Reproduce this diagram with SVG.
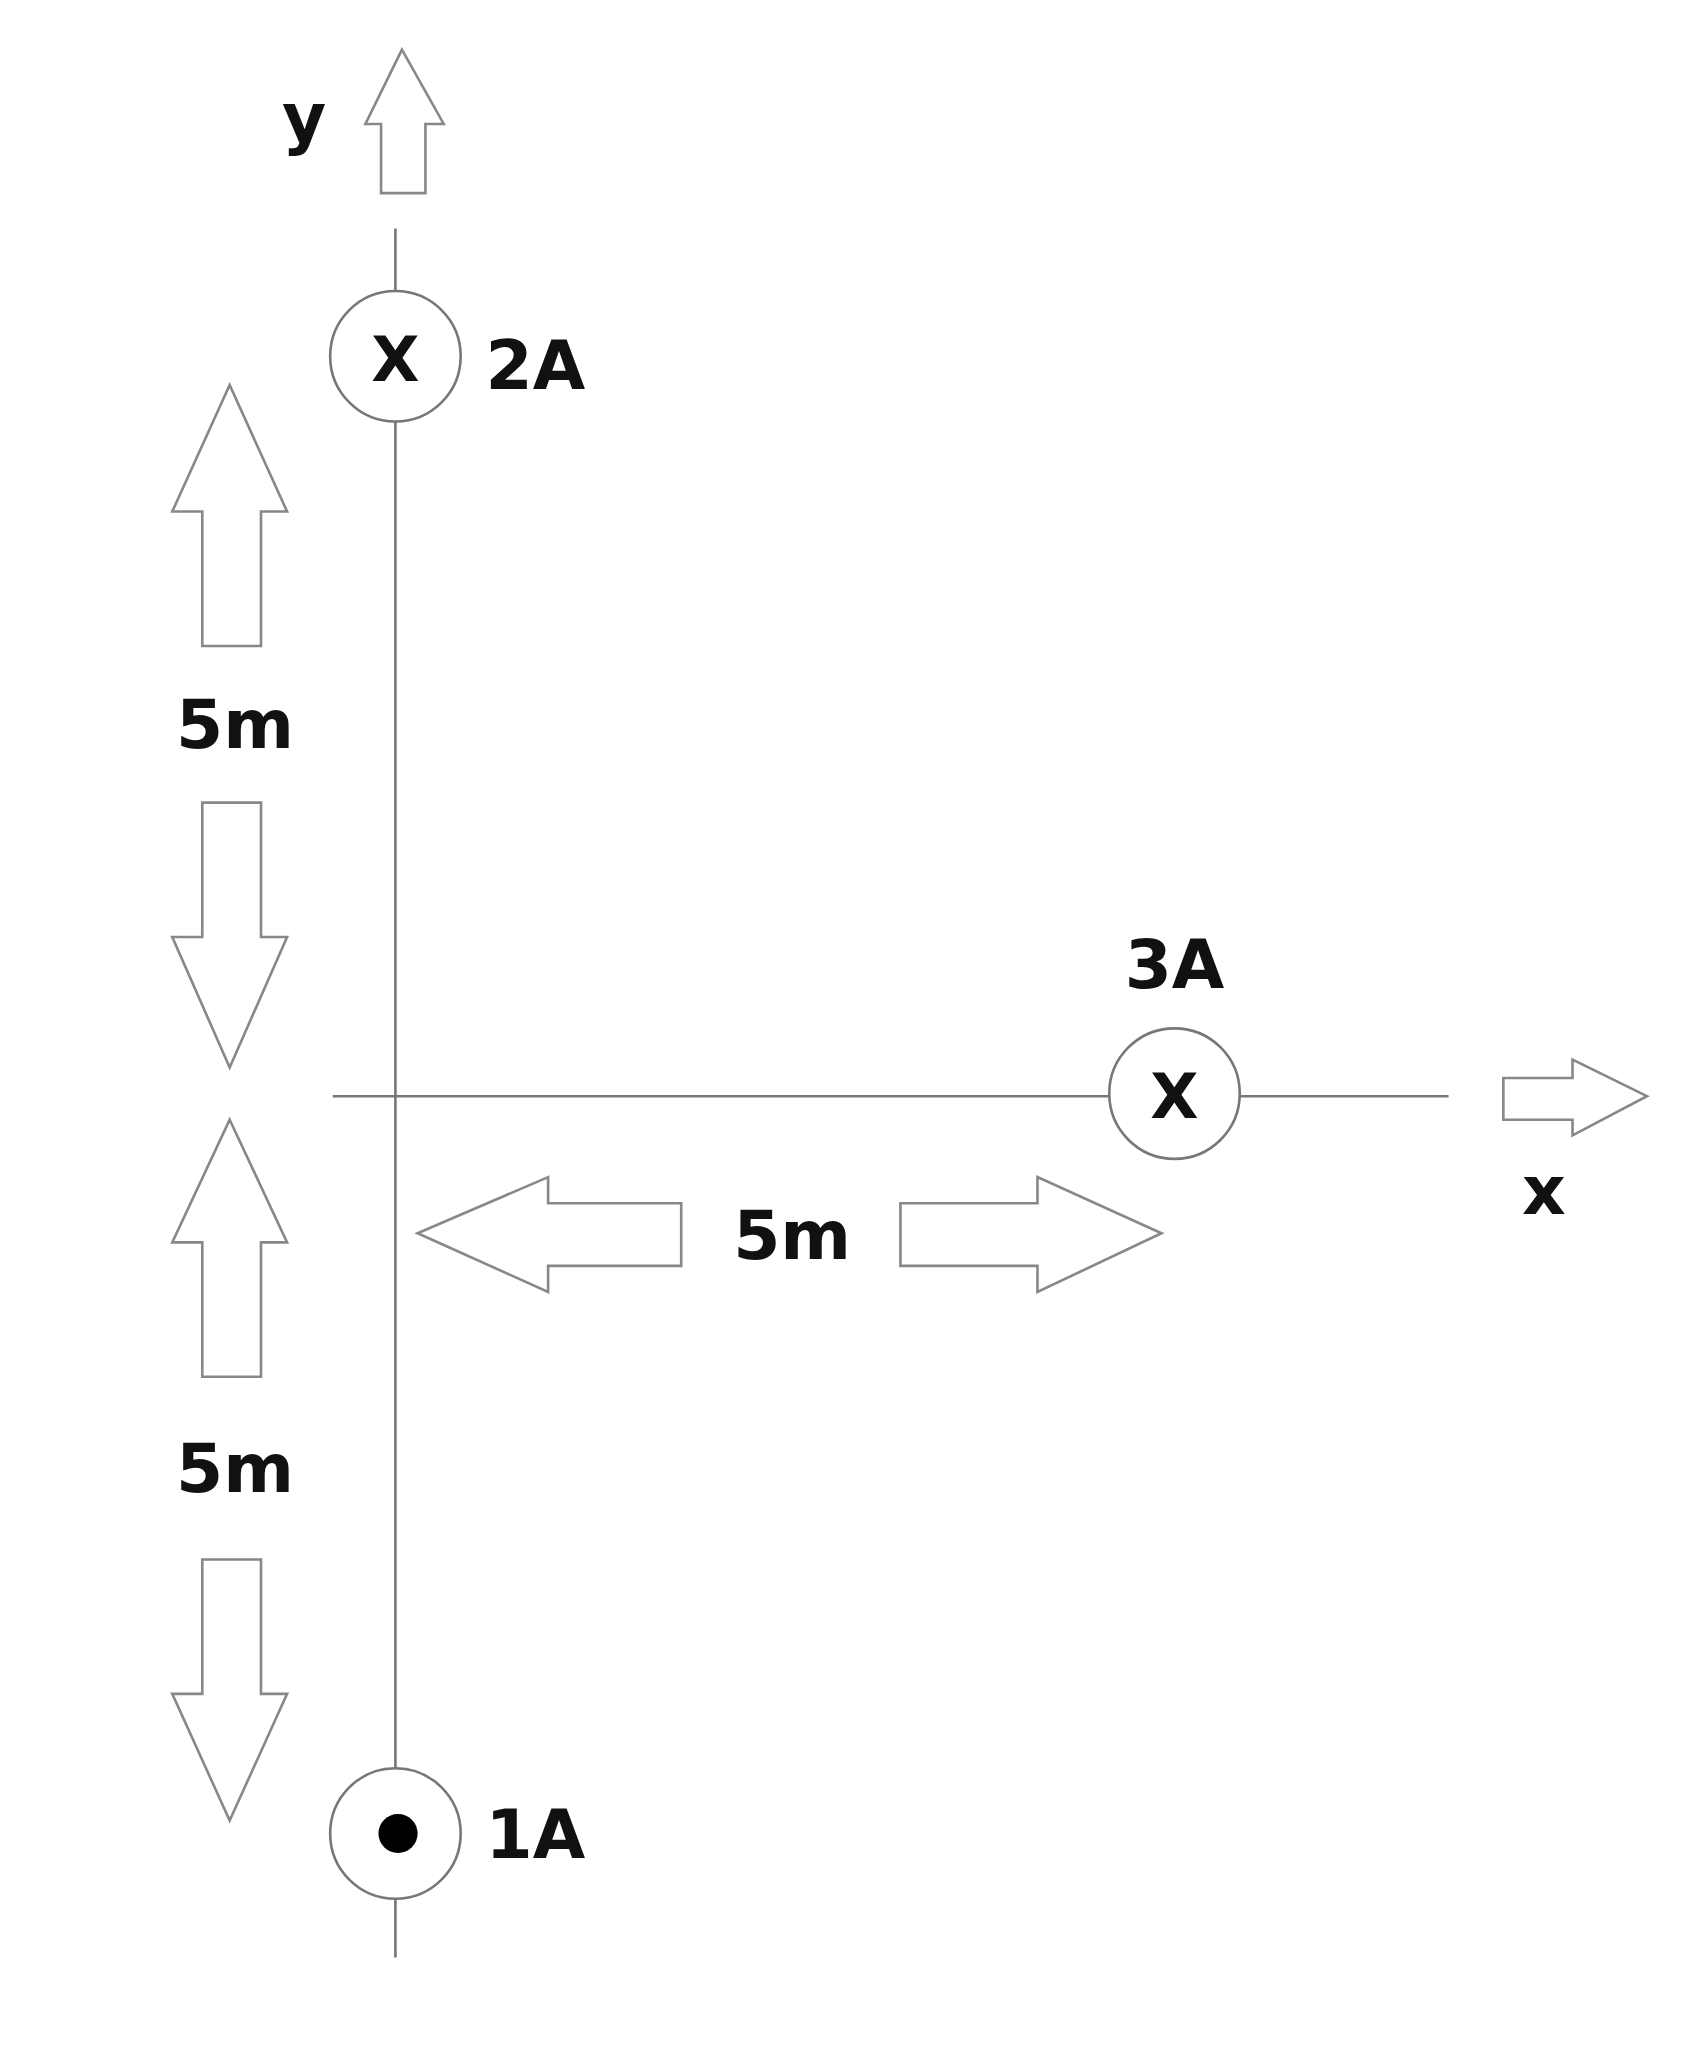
<svg xmlns="http://www.w3.org/2000/svg" width="1681" height="2046" viewBox="0 0 1681 2046">
<style>
.ax{stroke:#777;stroke-width:2;fill:none}
.ar{stroke:#888;stroke-width:2;fill:#fff;stroke-linejoin:miter}
.c{stroke:#777;stroke-width:2;fill:#fff}
.t{font-family:"DejaVu Sans",sans-serif;font-weight:bold;font-size:52px;fill:#111}
.tx{font-family:"DejaVu Sans",sans-serif;font-weight:bold;font-size:48px;fill:#111;text-anchor:middle}
</style>
<rect width="1681" height="2046" fill="#fff"/>
<g transform="scale(1.305)">
<g id="connectors">
<line class="ax" x1="303" y1="175" x2="303" y2="1500"/>
<line class="ax" x1="255" y1="840" x2="1110" y2="840"/>
</g>
<g id="arrows">
<polygon class="ar" points="176,295 220,392 200,392 200,495 155,495 155,392 132,392"/>
<polygon class="ar" points="176,818 220,718 200,718 200,615 155,615 155,718 132,718"/>
<polygon class="ar" points="176,858 220,952 200,952 200,1055 155,1055 155,952 132,952"/>
<polygon class="ar" points="176,1395 220,1298 200,1298 200,1195 155,1195 155,1298 132,1298"/>
<polygon class="ar" points="320,945 420,902 420,922 522,922 522,970 420,970 420,990"/>
<polygon class="ar" points="890,945 795,902 795,922 690,922 690,970 795,970 795,990"/>
<polygon class="ar" points="308,38 340,95 326,95 326,148 292,148 292,95 280,95"/>
<polygon class="ar" points="1262,840 1205,812 1205,826 1152,826 1152,858 1205,858 1205,870"/>
</g>
<g id="node-2A">
<circle class="c" cx="303" cy="273" r="50"/>
<text class="tx" x="303" y="292">X</text>
<text class="t" x="372" y="298">2A</text>
</g>
<g id="node-3A">
<circle class="c" cx="900" cy="838" r="50"/>
<text class="tx" x="900" y="857">X</text>
<text class="t" x="900" y="757" text-anchor="middle">3A</text>
</g>
<g id="node-1A">
<circle class="c" cx="303" cy="1405" r="50"/>
<circle cx="305" cy="1405" r="15" fill="#000"/>
<text class="t" x="372" y="1424">1A</text>
</g>
<g id="labels">
<text class="t" x="233" y="108" text-anchor="middle" font-size="44">y</text>
<text class="t" x="1183" y="930" text-anchor="middle" font-size="44">x</text>
<text class="t" x="180" y="573" text-anchor="middle">5m</text>
<text class="t" x="180" y="1143" text-anchor="middle">5m</text>
<text class="t" x="607" y="965" text-anchor="middle">5m</text>
</g>
</g>
</svg>
